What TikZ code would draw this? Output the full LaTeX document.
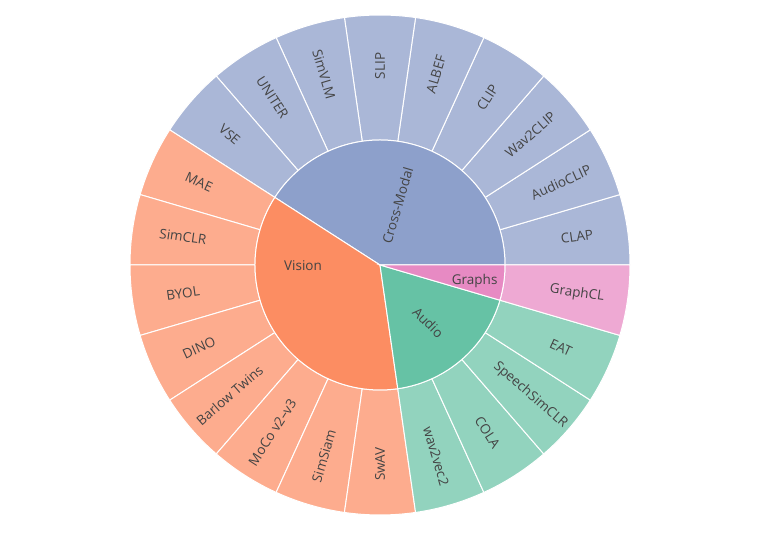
\documentclass[tikz,border=0pt]{standalone}
\usepackage{fontspec}
\setmainfont{Open Sans}
\definecolor{cmIn}{HTML}{8DA0CB}
\definecolor{cmOut}{HTML}{AAB7D7}
\definecolor{viIn}{HTML}{FC8D62}
\definecolor{viOut}{HTML}{FDAC8E}
\definecolor{auIn}{HTML}{66C2A5}
\definecolor{auOut}{HTML}{92D3BE}
\definecolor{grIn}{HTML}{E78AC3}
\definecolor{grOut}{HTML}{EEA9D3}
\definecolor{txt}{HTML}{444444}
\tikzset{
  sector/.style={draw=white,line width=1pt},
  lbl/.style={text=txt,font=\fontsize{13.5}{15}\selectfont,inner sep=1pt}
}
\begin{document}
\begin{tikzpicture}[x=1pt,y=1pt]
\useasboundingbox (0,0) rectangle (774,548);
\coordinate (c) at (380,283);
% outer ring, one sector per method
\foreach \name/\col [count=\i from 0] in {CLAP/cmOut,AudioCLIP/cmOut,Wav2CLIP/cmOut,CLIP/cmOut,ALBEF/cmOut,SLIP/cmOut,SimVLM/cmOut,UNITER/cmOut,VSE/cmOut,
    MAE/viOut,SimCLR/viOut,BYOL/viOut,DINO/viOut,Barlow Twins/viOut,MoCo v2–v3/viOut,SimSiam/viOut,SwAV/viOut,
    wav2vec2/auOut,COLA/auOut,SpeechSimCLR/auOut,EAT/auOut,GraphCL/grOut} {
  \pgfmathsetmacro\a{\i*360/22}
  \pgfmathsetmacro\b{(\i+1)*360/22}
  \pgfmathsetmacro\m{(\i+0.5)*360/22}
  \pgfmathsetmacro\r{ifthenelse(\i>=6 && \i<=16,\m-180,\m)}
  \fill[\col,sector] ([shift={(\a:125)}]c) arc(\a:\b:125) -- ([shift={(\b:250)}]c) arc(\b:\a:250) -- cycle;
  \node[lbl,rotate=\r] (leaf\i) at ([shift={(\m:199)}]c) {\name};
}
% inner ring, one sector per modality
\foreach \a/\b/\col in {0/147.2727/cmIn,147.2727/278.1818/viIn,278.1818/343.6364/auIn,343.6364/360/grIn} {
  \fill[\col,sector] (c) -- ([shift={(\a:125)}]c) arc(\a:\b:125) -- cycle;
}
\node[lbl,rotate=73.6] (cross) at ([shift={(73.6:62)}]c) {Cross-Modal};
\node[lbl] (vision) at ([shift={(180.5:77)}]c) {Vision};
\node[lbl,rotate=-45] (audio) at ([shift={(-50:75)}]c) {Audio};
\node[lbl] (graphs) at ([shift={(-9.5:96)}]c) {Graphs};
\end{tikzpicture}
\end{document}
